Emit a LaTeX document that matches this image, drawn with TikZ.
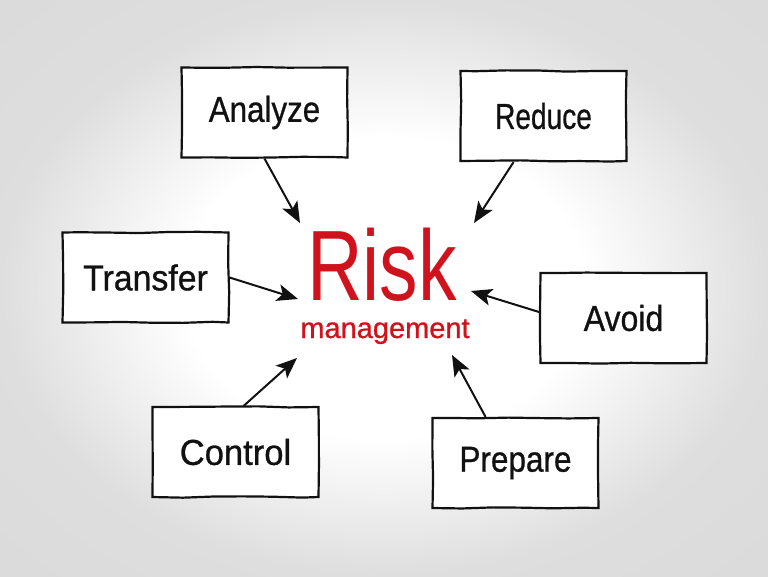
\documentclass[tikz,border=0pt]{standalone}
\usepackage{fontspec}
\setmainfont{Liberation Sans}
\newfontfamily\handfont[FakeBold=0.8]{Liberation Sans}
\usetikzlibrary{arrows.meta,decorations.pathmorphing}
\definecolor{riskred}{RGB}{208,18,28}
\definecolor{ink}{RGB}{17,17,17}
\pgfdeclareradialshading{bgshade}{\pgfpoint{0bp}{0bp}}{color(0bp)=(white); color(13bp)=(white); color(25bp)=(gray!26); color(50bp)=(gray!32)}
\tikzset{
  box/.style={draw=ink, fill=white, line width=2.2pt, minimum width=166pt, minimum height=90pt,
    inner sep=0pt, font=\handfont\fontsize{36}{40}\selectfont, text=ink,
    decorate, decoration={random steps, segment length=30pt, amplitude=0.7pt}},
  arr/.style={draw=ink, line width=2pt, -{Stealth[length=21pt,width=17pt,inset=5pt]}},
  redtext/.style={anchor=base, text=riskred, inner sep=0pt, text depth=0pt}
}
\begin{document}
\begin{tikzpicture}[x=1pt,y=-1pt]
\pgfmathsetseed{7}
\useasboundingbox (0,0) rectangle (768,576);
\shade[shading=bgshade] (0,0) rectangle (768,576);
% boxes
\node[box] (an) at (264.5,112.5) {\scalebox{0.87}[1]{Analyze}};
\node[box] (re) at (543.5,116) {\scalebox{0.78}[1]{Reduce}};
\node[box] (tr) at (145.5,277.5) {\scalebox{0.94}[1]{Transfer}};
\node[box] (av) at (623.5,318) {\scalebox{0.89}[1]{Avoid}};
\node[box] (co) at (235.5,452) {\scalebox{0.96}[1]{Control}};
\node[box] (pr) at (515.5,463) {\scalebox{0.875}[1]{Prepare}};
% centre text
\node[redtext, font=\fontsize{100}{110}\selectfont] (risk) at (382,300) {\scalebox{0.77}[1]{Risk}};
\node[redtext, font=\handfont\fontsize{29}{32}\selectfont] (mgmt) at (385,338) {management};
% arrow tips
\coordinate (tA) at (300,223);
\coordinate (tR) at (474,223);
\coordinate (tT) at (298,299);
\coordinate (tV) at (471,291);
\coordinate (tC) at (297,358);
\coordinate (tP) at (452,355);
\draw[arr] (an.south) -- (tA);
\draw[arr] (re.237) -- (tR);
\draw[arr] (tr.east) -- (tT);
\draw[arr] (av.176) -- (tV);
\draw[arr] (co.80) -- (tC);
\draw[arr] (pr.123) -- (tP);
\end{tikzpicture}
\end{document}
